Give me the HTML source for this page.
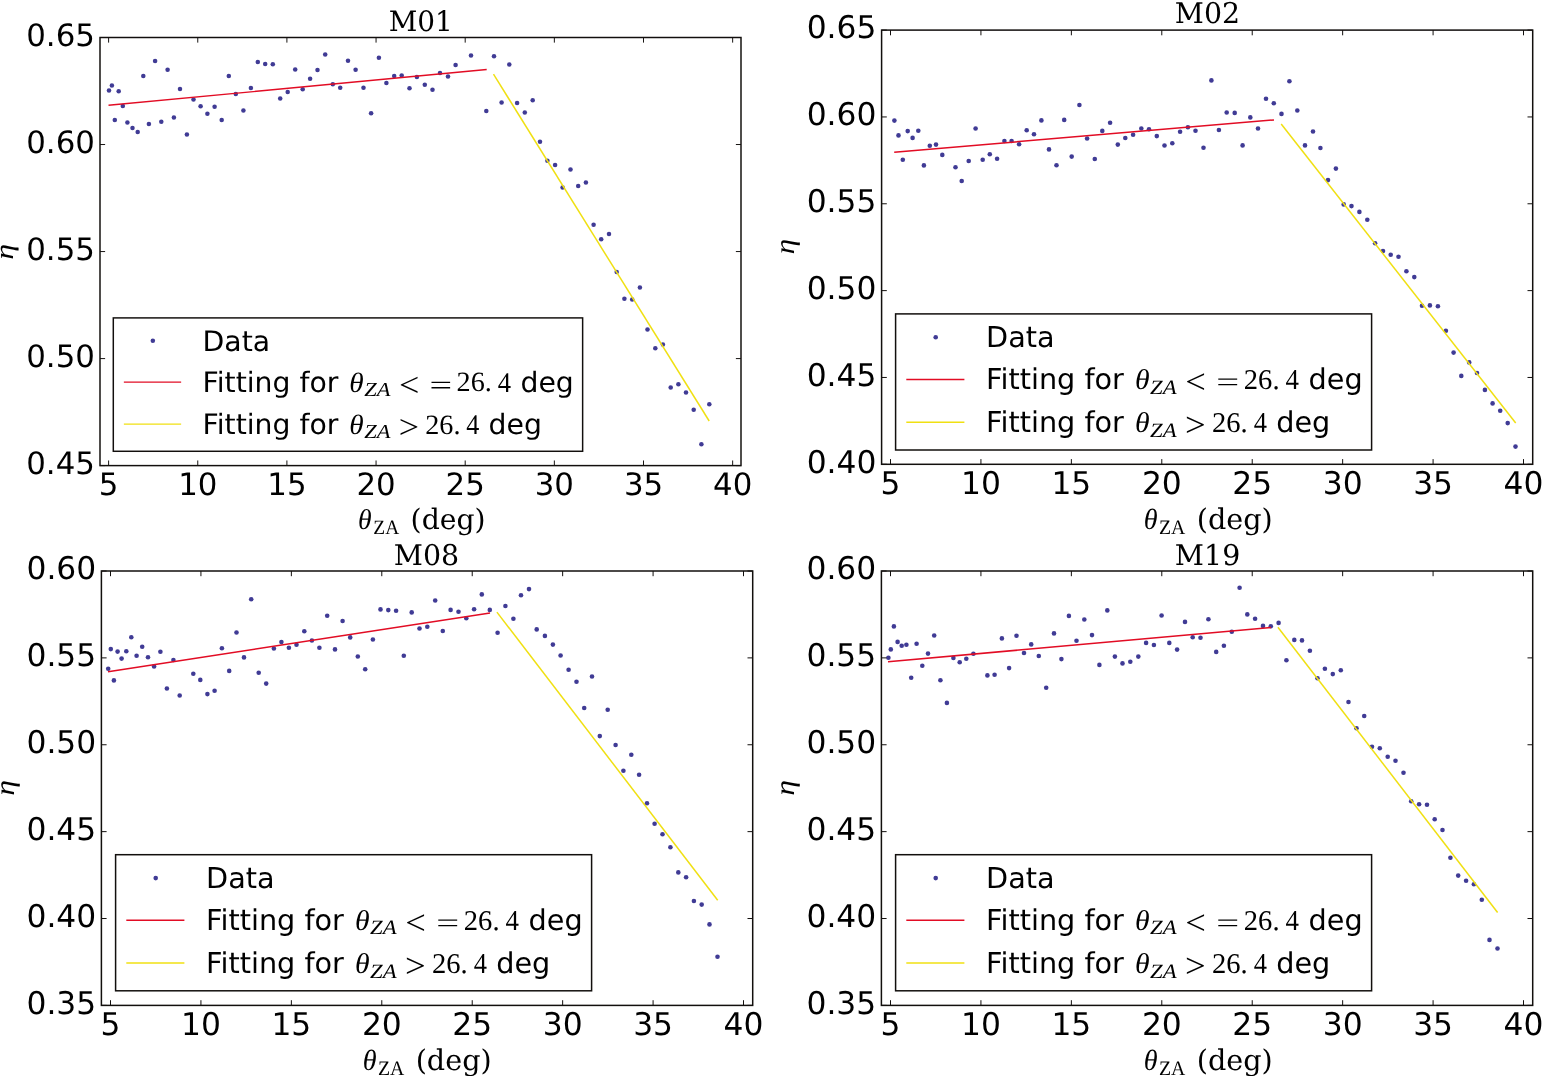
<!DOCTYPE html>
<html><head><meta charset="utf-8"><title>Detection efficiency vs zenith angle</title>
<style>html,body{margin:0;padding:0;background:#fff;overflow:hidden;}svg{display:block;}</style></head>
<body>
<svg width="1543" height="1076" viewBox="0 0 1543 1076" text-rendering="geometricPrecision">
<rect width="1543" height="1076" fill="#fff"/>
<g fill="#403b95">
<circle cx="109" cy="90.5" r="2.27"/>
<circle cx="111.9" cy="85.6" r="2.27"/>
<circle cx="114.8" cy="119.9" r="2.27"/>
<circle cx="118.7" cy="91.2" r="2.27"/>
<circle cx="122.8" cy="106.1" r="2.27"/>
<circle cx="127.4" cy="122.4" r="2.27"/>
<circle cx="132.5" cy="128" r="2.27"/>
<circle cx="137.7" cy="132.1" r="2.27"/>
<circle cx="143.3" cy="75.9" r="2.27"/>
<circle cx="148.9" cy="124" r="2.27"/>
<circle cx="155.1" cy="60.9" r="2.27"/>
<circle cx="161.3" cy="121.8" r="2.27"/>
<circle cx="167.6" cy="69.7" r="2.27"/>
<circle cx="173.9" cy="117.6" r="2.27"/>
<circle cx="180" cy="88.9" r="2.27"/>
<circle cx="186.9" cy="134.6" r="2.27"/>
<circle cx="193.5" cy="99.6" r="2.27"/>
<circle cx="200.6" cy="106.2" r="2.27"/>
<circle cx="207.4" cy="113.8" r="2.27"/>
<circle cx="214.6" cy="106.8" r="2.27"/>
<circle cx="221.7" cy="120" r="2.27"/>
<circle cx="228.8" cy="76" r="2.27"/>
<circle cx="235.8" cy="94" r="2.27"/>
<circle cx="243.4" cy="110.5" r="2.27"/>
<circle cx="250.9" cy="88" r="2.27"/>
<circle cx="257.8" cy="61.9" r="2.27"/>
<circle cx="265.2" cy="64.1" r="2.27"/>
<circle cx="272.8" cy="64.3" r="2.27"/>
<circle cx="280.2" cy="98.4" r="2.27"/>
<circle cx="287.7" cy="92" r="2.27"/>
<circle cx="295.2" cy="69.6" r="2.27"/>
<circle cx="302.7" cy="89.3" r="2.27"/>
<circle cx="310.1" cy="78.8" r="2.27"/>
<circle cx="317.5" cy="69.9" r="2.27"/>
<circle cx="325.2" cy="54.6" r="2.27"/>
<circle cx="332.8" cy="84.3" r="2.27"/>
<circle cx="340.2" cy="87.8" r="2.27"/>
<circle cx="348" cy="60.7" r="2.27"/>
<circle cx="355.6" cy="69.8" r="2.27"/>
<circle cx="363.5" cy="87.8" r="2.27"/>
<circle cx="371.1" cy="113.2" r="2.27"/>
<circle cx="378.9" cy="57.7" r="2.27"/>
<circle cx="386.4" cy="83" r="2.27"/>
<circle cx="394.2" cy="75.9" r="2.27"/>
<circle cx="401.7" cy="75.4" r="2.27"/>
<circle cx="409.5" cy="88.2" r="2.27"/>
<circle cx="416.9" cy="77" r="2.27"/>
<circle cx="424.8" cy="84.8" r="2.27"/>
<circle cx="432.5" cy="89.7" r="2.27"/>
<circle cx="440" cy="72.9" r="2.27"/>
<circle cx="448" cy="76.4" r="2.27"/>
<circle cx="455.6" cy="64.9" r="2.27"/>
<circle cx="471" cy="55.5" r="2.27"/>
<circle cx="486.3" cy="111" r="2.27"/>
<circle cx="494" cy="56.3" r="2.27"/>
<circle cx="501.6" cy="102.6" r="2.27"/>
<circle cx="509.3" cy="64.4" r="2.27"/>
<circle cx="517.1" cy="103.1" r="2.27"/>
<circle cx="524.8" cy="112.6" r="2.27"/>
<circle cx="532.7" cy="100.2" r="2.27"/>
<circle cx="540" cy="141.7" r="2.27"/>
<circle cx="547.4" cy="160.7" r="2.27"/>
<circle cx="555.1" cy="165" r="2.27"/>
<circle cx="562.6" cy="187.5" r="2.27"/>
<circle cx="570.5" cy="169.6" r="2.27"/>
<circle cx="578.2" cy="185.9" r="2.27"/>
<circle cx="585.9" cy="182.5" r="2.27"/>
<circle cx="593.6" cy="224.8" r="2.27"/>
<circle cx="601.2" cy="239.3" r="2.27"/>
<circle cx="609" cy="234" r="2.27"/>
<circle cx="616.7" cy="272.1" r="2.27"/>
<circle cx="624.4" cy="298.8" r="2.27"/>
<circle cx="632.2" cy="299.4" r="2.27"/>
<circle cx="639.9" cy="287.6" r="2.27"/>
<circle cx="647.5" cy="329.4" r="2.27"/>
<circle cx="655.3" cy="348.3" r="2.27"/>
<circle cx="662.9" cy="344.4" r="2.27"/>
<circle cx="670.7" cy="387.6" r="2.27"/>
<circle cx="678.4" cy="384.2" r="2.27"/>
<circle cx="686" cy="392.6" r="2.27"/>
<circle cx="693.7" cy="409.8" r="2.27"/>
<circle cx="701.4" cy="444.3" r="2.27"/>
<circle cx="709.3" cy="404.2" r="2.27"/>
</g>
<line x1="108.5" y1="105.3" x2="486.7" y2="69.6" stroke="#e20c24" stroke-width="1.48"/>
<line x1="493.5" y1="74.2" x2="709.2" y2="421" stroke="#f0e012" stroke-width="1.48"/>
<path d="M108.6 465.6V460.48M108.6 37.5V42.62M197.75 465.6V460.48M197.75 37.5V42.62M286.9 465.6V460.48M286.9 37.5V42.62M376.05 465.6V460.48M376.05 37.5V42.62M465.2 465.6V460.48M465.2 37.5V42.62M554.35 465.6V460.48M554.35 37.5V42.62M643.5 465.6V460.48M643.5 37.5V42.62M732.65 465.6V460.48M732.65 37.5V42.62M100 465.6H105.12M741 465.6H735.88M100 358.58H105.12M741 358.58H735.88M100 251.55H105.12M741 251.55H735.88M100 144.53H105.12M741 144.53H735.88M100 37.5H105.12M741 37.5H735.88" stroke="#120f0d" stroke-width="0.98" fill="none"/>
<rect x="100" y="37.5" width="641" height="428.1" fill="none" stroke="#120f0d" stroke-width="1.48"/>
<g font-family="'DejaVu Sans', 'Liberation Sans', sans-serif" font-size="30.83" fill="#000">
<text x="108.6" y="494.56" text-anchor="middle">5</text>
<text x="197.75" y="494.56" text-anchor="middle">10</text>
<text x="286.9" y="494.56" text-anchor="middle">15</text>
<text x="376.05" y="494.56" text-anchor="middle">20</text>
<text x="465.2" y="494.56" text-anchor="middle">25</text>
<text x="554.35" y="494.56" text-anchor="middle">30</text>
<text x="643.5" y="494.56" text-anchor="middle">35</text>
<text x="732.65" y="494.56" text-anchor="middle">40</text>
<text x="94.88" y="473.68" text-anchor="end">0.45</text>
<text x="94.88" y="366.65" text-anchor="end">0.50</text>
<text x="94.88" y="259.63" text-anchor="end">0.55</text>
<text x="94.88" y="152.6" text-anchor="end">0.60</text>
<text x="94.88" y="45.58" text-anchor="end">0.65</text>
</g>
<text transform="translate(388.66 30.8) scale(0.9918 1)" font-family="'DejaVu Serif', 'Liberation Serif', serif" font-size="28.17">M01</text>
<text transform="translate(358.1 529.27) scale(0.9670 1)" font-family="'Liberation Serif', serif" font-size="28.63" font-style="italic">θ</text>
<text transform="translate(373.32 533.65) scale(0.9491 1)" font-family="'Liberation Serif', serif" font-size="20.45">ZA</text>
<text transform="translate(410.61 528.7) scale(1.0048 1)" font-family="'DejaVu Serif', 'Liberation Serif', serif" font-size="28.17">(deg)</text>
<text transform="translate(13.47 259.69) rotate(-90) scale(1.2232 1)" font-family="'Liberation Serif', serif" font-size="26.15" font-style="italic">η</text>
<g transform="translate(-769.76 10.28) scale(0.986 0.980)">
<rect x="895.6" y="313.9" width="476" height="136.1" fill="#fff" stroke="#120f0d" stroke-width="1.5"/>
<circle cx="935.7" cy="337.3" r="2.3" fill="#403b95"/>
<line x1="906.3" y1="379.4" x2="964.4" y2="379.4" stroke="#e20c24" stroke-width="1.45"/>
<line x1="906.3" y1="422.3" x2="964.4" y2="422.3" stroke="#f0e012" stroke-width="1.45"/>
<g font-family="'DejaVu Sans', 'Liberation Sans', sans-serif" font-size="28.7">
<text x="986.08" y="347.2">Data</text>
<text x="986.08" y="389.0">Fitting for</text>
<text x="1308.52" y="389.0">deg</text>
<text x="986.08" y="432.3">Fitting for</text>
<text x="1276.22" y="432.3">deg</text>
</g>
<text transform="translate(1134.9 389.07) scale(1.0379 1)" font-family="'Liberation Serif', serif" font-size="28.63" font-style="italic">θ</text>
<text transform="translate(1150.07 393.65) scale(1.1230 1)" font-family="'Liberation Serif', serif" font-size="20.3" font-style="italic">ZA</text>
<text transform="translate(1185.23 393.48) scale(1.0617 1)" font-family="'Liberation Serif', serif" font-size="34.41">&lt;</text>
<text transform="translate(1216.33 391.16) scale(1.4716 1)" font-family="'Liberation Serif', serif" font-size="27.6">=</text>
<text transform="translate(1243.79 388.85) scale(1.0019 1)" font-family="'Liberation Serif', serif" font-size="28.54">26.</text>
<text transform="translate(1285.52 389.05) scale(0.9267 1)" font-family="'Liberation Serif', serif" font-size="29.02">4</text>
<text transform="translate(1134.9 432.17) scale(1.0379 1)" font-family="'Liberation Serif', serif" font-size="28.63" font-style="italic">θ</text>
<text transform="translate(1150.07 436.75) scale(1.1230 1)" font-family="'Liberation Serif', serif" font-size="20.3" font-style="italic">ZA</text>
<text transform="translate(1184.99 436.44) scale(1.0747 1)" font-family="'Liberation Serif', serif" font-size="34">&gt;</text>
<text transform="translate(1211.99 431.95) scale(1.0019 1)" font-family="'Liberation Serif', serif" font-size="28.54">26.</text>
<text transform="translate(1253.63 432.15) scale(0.9119 1)" font-family="'Liberation Serif', serif" font-size="29.02">4</text>
</g>
<g fill="#403b95">
<circle cx="894.4" cy="120.6" r="2.3"/>
<circle cx="898.5" cy="135.4" r="2.3"/>
<circle cx="902.8" cy="159.7" r="2.3"/>
<circle cx="907.7" cy="131.1" r="2.3"/>
<circle cx="912.6" cy="137.9" r="2.3"/>
<circle cx="918.3" cy="130.7" r="2.3"/>
<circle cx="923.9" cy="165.4" r="2.3"/>
<circle cx="929.8" cy="145.8" r="2.3"/>
<circle cx="936" cy="144.6" r="2.3"/>
<circle cx="942.3" cy="154.9" r="2.3"/>
<circle cx="955.5" cy="167.3" r="2.3"/>
<circle cx="961.7" cy="181" r="2.3"/>
<circle cx="968.7" cy="161" r="2.3"/>
<circle cx="975.6" cy="128.5" r="2.3"/>
<circle cx="982.7" cy="159.7" r="2.3"/>
<circle cx="989.8" cy="154.2" r="2.3"/>
<circle cx="997.1" cy="158.7" r="2.3"/>
<circle cx="1004.4" cy="141" r="2.3"/>
<circle cx="1011.6" cy="141" r="2.3"/>
<circle cx="1019.1" cy="144.3" r="2.3"/>
<circle cx="1026.7" cy="130.2" r="2.3"/>
<circle cx="1034" cy="134.3" r="2.3"/>
<circle cx="1041.4" cy="120.4" r="2.3"/>
<circle cx="1049" cy="149.4" r="2.3"/>
<circle cx="1056.5" cy="165.3" r="2.3"/>
<circle cx="1064.2" cy="119.9" r="2.3"/>
<circle cx="1071.7" cy="156.6" r="2.3"/>
<circle cx="1079.4" cy="105" r="2.3"/>
<circle cx="1087.1" cy="138.5" r="2.3"/>
<circle cx="1094.8" cy="159" r="2.3"/>
<circle cx="1102.3" cy="130.9" r="2.3"/>
<circle cx="1110.1" cy="122.8" r="2.3"/>
<circle cx="1117.8" cy="144.6" r="2.3"/>
<circle cx="1125.3" cy="138" r="2.3"/>
<circle cx="1133.1" cy="134.8" r="2.3"/>
<circle cx="1141.3" cy="128.5" r="2.3"/>
<circle cx="1149" cy="129.2" r="2.3"/>
<circle cx="1156.8" cy="136.1" r="2.3"/>
<circle cx="1164.5" cy="145.5" r="2.3"/>
<circle cx="1172.3" cy="143.2" r="2.3"/>
<circle cx="1180.1" cy="131.8" r="2.3"/>
<circle cx="1187.9" cy="127.3" r="2.3"/>
<circle cx="1195.5" cy="130.8" r="2.3"/>
<circle cx="1203.5" cy="147.8" r="2.3"/>
<circle cx="1211.4" cy="80.4" r="2.3"/>
<circle cx="1218.9" cy="130" r="2.3"/>
<circle cx="1226.7" cy="112.5" r="2.3"/>
<circle cx="1234.7" cy="112.9" r="2.3"/>
<circle cx="1242.6" cy="145.4" r="2.3"/>
<circle cx="1250.3" cy="117.4" r="2.3"/>
<circle cx="1258" cy="128.5" r="2.3"/>
<circle cx="1266" cy="98.8" r="2.3"/>
<circle cx="1273.8" cy="103.3" r="2.3"/>
<circle cx="1281.5" cy="113.9" r="2.3"/>
<circle cx="1289.4" cy="81.2" r="2.3"/>
<circle cx="1297.3" cy="110.5" r="2.3"/>
<circle cx="1305" cy="145.4" r="2.3"/>
<circle cx="1313" cy="131.5" r="2.3"/>
<circle cx="1320.4" cy="148" r="2.3"/>
<circle cx="1328" cy="180.1" r="2.3"/>
<circle cx="1335.9" cy="168.6" r="2.3"/>
<circle cx="1343.7" cy="204.4" r="2.3"/>
<circle cx="1351.5" cy="206.1" r="2.3"/>
<circle cx="1359.4" cy="211.9" r="2.3"/>
<circle cx="1367.3" cy="219.8" r="2.3"/>
<circle cx="1375.1" cy="243.3" r="2.3"/>
<circle cx="1383" cy="251" r="2.3"/>
<circle cx="1390.7" cy="254.8" r="2.3"/>
<circle cx="1398.5" cy="256.8" r="2.3"/>
<circle cx="1406.4" cy="271.2" r="2.3"/>
<circle cx="1414.3" cy="277.1" r="2.3"/>
<circle cx="1422" cy="305.7" r="2.3"/>
<circle cx="1429.9" cy="305.4" r="2.3"/>
<circle cx="1437.9" cy="306.2" r="2.3"/>
<circle cx="1445.9" cy="330.8" r="2.3"/>
<circle cx="1453.6" cy="352.6" r="2.3"/>
<circle cx="1461.3" cy="375.9" r="2.3"/>
<circle cx="1469.2" cy="362.4" r="2.3"/>
<circle cx="1477" cy="373" r="2.3"/>
<circle cx="1484.9" cy="389.9" r="2.3"/>
<circle cx="1492.6" cy="403.4" r="2.3"/>
<circle cx="1500.2" cy="410.8" r="2.3"/>
<circle cx="1507.7" cy="423.1" r="2.3"/>
<circle cx="1515.5" cy="446.6" r="2.3"/>
</g>
<line x1="894.2" y1="152.2" x2="1274" y2="119.9" stroke="#e20c24" stroke-width="1.5"/>
<line x1="1281.2" y1="124" x2="1515.7" y2="423" stroke="#f0e012" stroke-width="1.5"/>
<path d="M890.5 464.3V459.1M890.5 30.1V35.3M980.93 464.3V459.1M980.93 30.1V35.3M1071.36 464.3V459.1M1071.36 30.1V35.3M1161.79 464.3V459.1M1161.79 30.1V35.3M1252.22 464.3V459.1M1252.22 30.1V35.3M1342.65 464.3V459.1M1342.65 30.1V35.3M1433.08 464.3V459.1M1433.08 30.1V35.3M1523.51 464.3V459.1M1523.51 30.1V35.3M881.6 464.3H886.8M1532.7 464.3H1527.5M881.6 377.46H886.8M1532.7 377.46H1527.5M881.6 290.62H886.8M1532.7 290.62H1527.5M881.6 203.78H886.8M1532.7 203.78H1527.5M881.6 116.94H886.8M1532.7 116.94H1527.5M881.6 30.1H886.8M1532.7 30.1H1527.5" stroke="#120f0d" stroke-width="1" fill="none"/>
<rect x="881.6" y="30.1" width="651.1" height="434.2" fill="none" stroke="#120f0d" stroke-width="1.5"/>
<g font-family="'DejaVu Sans', 'Liberation Sans', sans-serif" font-size="31.3" fill="#000">
<text x="890.5" y="493.7" text-anchor="middle">5</text>
<text x="980.93" y="493.7" text-anchor="middle">10</text>
<text x="1071.36" y="493.7" text-anchor="middle">15</text>
<text x="1161.79" y="493.7" text-anchor="middle">20</text>
<text x="1252.22" y="493.7" text-anchor="middle">25</text>
<text x="1342.65" y="493.7" text-anchor="middle">30</text>
<text x="1433.08" y="493.7" text-anchor="middle">35</text>
<text x="1523.51" y="493.7" text-anchor="middle">40</text>
<text x="876.4" y="472.5" text-anchor="end">0.40</text>
<text x="876.4" y="385.66" text-anchor="end">0.45</text>
<text x="876.4" y="298.82" text-anchor="end">0.50</text>
<text x="876.4" y="211.98" text-anchor="end">0.55</text>
<text x="876.4" y="125.14" text-anchor="end">0.60</text>
<text x="876.4" y="38.3" text-anchor="end">0.65</text>
</g>
<text transform="translate(1174.84 23.3) scale(0.9928 1)" font-family="'DejaVu Serif', 'Liberation Serif', serif" font-size="28.6">M02</text>
<text transform="translate(1143.77 529.46) scale(0.9601 1)" font-family="'Liberation Serif', serif" font-size="29.34" font-style="italic">θ</text>
<text transform="translate(1159 533.65) scale(0.9611 1)" font-family="'Liberation Serif', serif" font-size="20.6">ZA</text>
<text transform="translate(1196.78 528.9) scale(1.0023 1)" font-family="'DejaVu Serif', 'Liberation Serif', serif" font-size="28.6">(deg)</text>
<text transform="translate(793.69 254.36) rotate(-90) scale(1.1299 1)" font-family="'Liberation Serif', serif" font-size="27.46" font-style="italic">η</text>
<g>
<rect x="895.6" y="313.9" width="476" height="136.1" fill="#fff" stroke="#120f0d" stroke-width="1.5"/>
<circle cx="935.7" cy="337.3" r="2.3" fill="#403b95"/>
<line x1="906.3" y1="379.4" x2="964.4" y2="379.4" stroke="#e20c24" stroke-width="1.45"/>
<line x1="906.3" y1="422.3" x2="964.4" y2="422.3" stroke="#f0e012" stroke-width="1.45"/>
<g font-family="'DejaVu Sans', 'Liberation Sans', sans-serif" font-size="28.7">
<text x="986.08" y="347.2">Data</text>
<text x="986.08" y="389.0">Fitting for</text>
<text x="1308.52" y="389.0">deg</text>
<text x="986.08" y="432.3">Fitting for</text>
<text x="1276.22" y="432.3">deg</text>
</g>
<text transform="translate(1134.9 389.07) scale(1.0379 1)" font-family="'Liberation Serif', serif" font-size="28.63" font-style="italic">θ</text>
<text transform="translate(1150.07 393.65) scale(1.1230 1)" font-family="'Liberation Serif', serif" font-size="20.3" font-style="italic">ZA</text>
<text transform="translate(1185.23 393.48) scale(1.0617 1)" font-family="'Liberation Serif', serif" font-size="34.41">&lt;</text>
<text transform="translate(1216.33 391.16) scale(1.4716 1)" font-family="'Liberation Serif', serif" font-size="27.6">=</text>
<text transform="translate(1243.79 388.85) scale(1.0019 1)" font-family="'Liberation Serif', serif" font-size="28.54">26.</text>
<text transform="translate(1285.52 389.05) scale(0.9267 1)" font-family="'Liberation Serif', serif" font-size="29.02">4</text>
<text transform="translate(1134.9 432.17) scale(1.0379 1)" font-family="'Liberation Serif', serif" font-size="28.63" font-style="italic">θ</text>
<text transform="translate(1150.07 436.75) scale(1.1230 1)" font-family="'Liberation Serif', serif" font-size="20.3" font-style="italic">ZA</text>
<text transform="translate(1184.99 436.44) scale(1.0747 1)" font-family="'Liberation Serif', serif" font-size="34">&gt;</text>
<text transform="translate(1211.99 431.95) scale(1.0019 1)" font-family="'Liberation Serif', serif" font-size="28.54">26.</text>
<text transform="translate(1253.63 432.15) scale(0.9119 1)" font-family="'Liberation Serif', serif" font-size="29.02">4</text>
</g>
<g fill="#403b95">
<circle cx="108.2" cy="668.8" r="2.3"/>
<circle cx="110.8" cy="649.1" r="2.3"/>
<circle cx="113.9" cy="680.4" r="2.3"/>
<circle cx="117.6" cy="651.6" r="2.3"/>
<circle cx="121.6" cy="658.6" r="2.3"/>
<circle cx="126.3" cy="651.2" r="2.3"/>
<circle cx="131.3" cy="637.2" r="2.3"/>
<circle cx="136.6" cy="655.7" r="2.3"/>
<circle cx="142.2" cy="646.8" r="2.3"/>
<circle cx="148" cy="657.3" r="2.3"/>
<circle cx="154.1" cy="666.5" r="2.3"/>
<circle cx="160.4" cy="651.8" r="2.3"/>
<circle cx="166.9" cy="688.5" r="2.3"/>
<circle cx="173.4" cy="660" r="2.3"/>
<circle cx="179.7" cy="695.5" r="2.3"/>
<circle cx="193.3" cy="673.7" r="2.3"/>
<circle cx="200.3" cy="679.9" r="2.3"/>
<circle cx="207.4" cy="694.1" r="2.3"/>
<circle cx="214.6" cy="690.7" r="2.3"/>
<circle cx="221.9" cy="648.2" r="2.3"/>
<circle cx="229.2" cy="670.9" r="2.3"/>
<circle cx="236.5" cy="632.5" r="2.3"/>
<circle cx="244" cy="657.4" r="2.3"/>
<circle cx="251.2" cy="599.3" r="2.3"/>
<circle cx="258.7" cy="672.7" r="2.3"/>
<circle cx="266.2" cy="683.6" r="2.3"/>
<circle cx="273.9" cy="648.5" r="2.3"/>
<circle cx="281.4" cy="642.1" r="2.3"/>
<circle cx="288.9" cy="647.7" r="2.3"/>
<circle cx="296.5" cy="644.8" r="2.3"/>
<circle cx="304.3" cy="631.3" r="2.3"/>
<circle cx="311.9" cy="640.5" r="2.3"/>
<circle cx="319.4" cy="647.8" r="2.3"/>
<circle cx="327.2" cy="615.8" r="2.3"/>
<circle cx="335" cy="649.4" r="2.3"/>
<circle cx="342.6" cy="621" r="2.3"/>
<circle cx="350.2" cy="637.4" r="2.3"/>
<circle cx="357.8" cy="656.5" r="2.3"/>
<circle cx="365.2" cy="669.2" r="2.3"/>
<circle cx="372.9" cy="639.5" r="2.3"/>
<circle cx="380.5" cy="609.4" r="2.3"/>
<circle cx="388.3" cy="610.1" r="2.3"/>
<circle cx="396.1" cy="610.8" r="2.3"/>
<circle cx="403.8" cy="655.8" r="2.3"/>
<circle cx="411.7" cy="612.4" r="2.3"/>
<circle cx="419.5" cy="628.5" r="2.3"/>
<circle cx="427.3" cy="626.7" r="2.3"/>
<circle cx="435.2" cy="600.5" r="2.3"/>
<circle cx="442.8" cy="631" r="2.3"/>
<circle cx="450.6" cy="609.9" r="2.3"/>
<circle cx="458.5" cy="611.7" r="2.3"/>
<circle cx="466.3" cy="618.3" r="2.3"/>
<circle cx="474.1" cy="609.2" r="2.3"/>
<circle cx="481.8" cy="594.4" r="2.3"/>
<circle cx="489.8" cy="609.9" r="2.3"/>
<circle cx="497.6" cy="632.8" r="2.3"/>
<circle cx="505.4" cy="606" r="2.3"/>
<circle cx="513.4" cy="618.8" r="2.3"/>
<circle cx="521" cy="595.3" r="2.3"/>
<circle cx="529" cy="589.1" r="2.3"/>
<circle cx="536.7" cy="629.4" r="2.3"/>
<circle cx="544.9" cy="635.9" r="2.3"/>
<circle cx="552.9" cy="644.6" r="2.3"/>
<circle cx="560.6" cy="655.5" r="2.3"/>
<circle cx="568.6" cy="669.7" r="2.3"/>
<circle cx="576.5" cy="681.8" r="2.3"/>
<circle cx="584.2" cy="708" r="2.3"/>
<circle cx="592" cy="676.5" r="2.3"/>
<circle cx="599.8" cy="736.1" r="2.3"/>
<circle cx="607.7" cy="709.8" r="2.3"/>
<circle cx="615.6" cy="745" r="2.3"/>
<circle cx="623.4" cy="770.8" r="2.3"/>
<circle cx="631.3" cy="754.7" r="2.3"/>
<circle cx="639.1" cy="774.8" r="2.3"/>
<circle cx="647" cy="803.3" r="2.3"/>
<circle cx="654.6" cy="823.8" r="2.3"/>
<circle cx="662.5" cy="834.2" r="2.3"/>
<circle cx="670.4" cy="847.2" r="2.3"/>
<circle cx="678.3" cy="872.4" r="2.3"/>
<circle cx="686.1" cy="877.2" r="2.3"/>
<circle cx="693.9" cy="901" r="2.3"/>
<circle cx="701.7" cy="904.6" r="2.3"/>
<circle cx="709.5" cy="924.4" r="2.3"/>
<circle cx="717.5" cy="956.7" r="2.3"/>
</g>
<line x1="108" y1="671.7" x2="490" y2="613.1" stroke="#e20c24" stroke-width="1.5"/>
<line x1="496.9" y1="612.1" x2="717.7" y2="900.2" stroke="#f0e012" stroke-width="1.5"/>
<path d="M110.5 1005.4V1000.2M110.5 571V576.2M200.93 1005.4V1000.2M200.93 571V576.2M291.36 1005.4V1000.2M291.36 571V576.2M381.79 1005.4V1000.2M381.79 571V576.2M472.22 1005.4V1000.2M472.22 571V576.2M562.65 1005.4V1000.2M562.65 571V576.2M653.08 1005.4V1000.2M653.08 571V576.2M743.51 1005.4V1000.2M743.51 571V576.2M101.4 1005.4H106.6M752.7 1005.4H747.5M101.4 918.52H106.6M752.7 918.52H747.5M101.4 831.64H106.6M752.7 831.64H747.5M101.4 744.76H106.6M752.7 744.76H747.5M101.4 657.88H106.6M752.7 657.88H747.5M101.4 571H106.6M752.7 571H747.5" stroke="#120f0d" stroke-width="1" fill="none"/>
<rect x="101.4" y="571" width="651.3" height="434.4" fill="none" stroke="#120f0d" stroke-width="1.5"/>
<g font-family="'DejaVu Sans', 'Liberation Sans', sans-serif" font-size="31.3" fill="#000">
<text x="110.5" y="1034.8" text-anchor="middle">5</text>
<text x="200.93" y="1034.8" text-anchor="middle">10</text>
<text x="291.36" y="1034.8" text-anchor="middle">15</text>
<text x="381.79" y="1034.8" text-anchor="middle">20</text>
<text x="472.22" y="1034.8" text-anchor="middle">25</text>
<text x="562.65" y="1034.8" text-anchor="middle">30</text>
<text x="653.08" y="1034.8" text-anchor="middle">35</text>
<text x="743.51" y="1034.8" text-anchor="middle">40</text>
<text x="96.2" y="1013.6" text-anchor="end">0.35</text>
<text x="96.2" y="926.72" text-anchor="end">0.40</text>
<text x="96.2" y="839.84" text-anchor="end">0.45</text>
<text x="96.2" y="752.96" text-anchor="end">0.50</text>
<text x="96.2" y="666.08" text-anchor="end">0.55</text>
<text x="96.2" y="579.2" text-anchor="end">0.60</text>
</g>
<text transform="translate(393.73 564.5) scale(0.9964 1)" font-family="'DejaVu Serif', 'Liberation Serif', serif" font-size="28.6">M08</text>
<text transform="translate(362.67 1070.46) scale(0.9601 1)" font-family="'Liberation Serif', serif" font-size="29.34" font-style="italic">θ</text>
<text transform="translate(377.9 1074.65) scale(0.9611 1)" font-family="'Liberation Serif', serif" font-size="20.6">ZA</text>
<text transform="translate(415.68 1069.9) scale(1.0023 1)" font-family="'DejaVu Serif', 'Liberation Serif', serif" font-size="28.6">(deg)</text>
<text transform="translate(13.75 795.68) rotate(-90) scale(1.1684 1)" font-family="'Liberation Serif', serif" font-size="27.17" font-style="italic">η</text>
<g transform="translate(-780 540.8)">
<rect x="895.6" y="313.9" width="476" height="136.1" fill="#fff" stroke="#120f0d" stroke-width="1.5"/>
<circle cx="935.7" cy="337.3" r="2.3" fill="#403b95"/>
<line x1="906.3" y1="379.4" x2="964.4" y2="379.4" stroke="#e20c24" stroke-width="1.45"/>
<line x1="906.3" y1="422.3" x2="964.4" y2="422.3" stroke="#f0e012" stroke-width="1.45"/>
<g font-family="'DejaVu Sans', 'Liberation Sans', sans-serif" font-size="28.7">
<text x="986.08" y="347.2">Data</text>
<text x="986.08" y="389.0">Fitting for</text>
<text x="1308.52" y="389.0">deg</text>
<text x="986.08" y="432.3">Fitting for</text>
<text x="1276.22" y="432.3">deg</text>
</g>
<text transform="translate(1134.9 389.07) scale(1.0379 1)" font-family="'Liberation Serif', serif" font-size="28.63" font-style="italic">θ</text>
<text transform="translate(1150.07 393.65) scale(1.1230 1)" font-family="'Liberation Serif', serif" font-size="20.3" font-style="italic">ZA</text>
<text transform="translate(1185.23 393.48) scale(1.0617 1)" font-family="'Liberation Serif', serif" font-size="34.41">&lt;</text>
<text transform="translate(1216.33 391.16) scale(1.4716 1)" font-family="'Liberation Serif', serif" font-size="27.6">=</text>
<text transform="translate(1243.79 388.85) scale(1.0019 1)" font-family="'Liberation Serif', serif" font-size="28.54">26.</text>
<text transform="translate(1285.52 389.05) scale(0.9267 1)" font-family="'Liberation Serif', serif" font-size="29.02">4</text>
<text transform="translate(1134.9 432.17) scale(1.0379 1)" font-family="'Liberation Serif', serif" font-size="28.63" font-style="italic">θ</text>
<text transform="translate(1150.07 436.75) scale(1.1230 1)" font-family="'Liberation Serif', serif" font-size="20.3" font-style="italic">ZA</text>
<text transform="translate(1184.99 436.44) scale(1.0747 1)" font-family="'Liberation Serif', serif" font-size="34">&gt;</text>
<text transform="translate(1211.99 431.95) scale(1.0019 1)" font-family="'Liberation Serif', serif" font-size="28.54">26.</text>
<text transform="translate(1253.63 432.15) scale(0.9119 1)" font-family="'Liberation Serif', serif" font-size="29.02">4</text>
</g>
<g fill="#403b95">
<circle cx="888.4" cy="657.8" r="2.3"/>
<circle cx="890.8" cy="649.4" r="2.3"/>
<circle cx="893.9" cy="626.4" r="2.3"/>
<circle cx="897.6" cy="641.9" r="2.3"/>
<circle cx="901.7" cy="645.7" r="2.3"/>
<circle cx="906.4" cy="644.7" r="2.3"/>
<circle cx="911.2" cy="677.8" r="2.3"/>
<circle cx="916.6" cy="643.7" r="2.3"/>
<circle cx="922.3" cy="665.8" r="2.3"/>
<circle cx="928" cy="653.6" r="2.3"/>
<circle cx="934.2" cy="635.5" r="2.3"/>
<circle cx="940.4" cy="680.2" r="2.3"/>
<circle cx="946.9" cy="702.9" r="2.3"/>
<circle cx="953.4" cy="657.9" r="2.3"/>
<circle cx="959.7" cy="662.2" r="2.3"/>
<circle cx="966.3" cy="658.7" r="2.3"/>
<circle cx="973.4" cy="653.8" r="2.3"/>
<circle cx="987.4" cy="675.4" r="2.3"/>
<circle cx="994.6" cy="674.7" r="2.3"/>
<circle cx="1001.9" cy="638.4" r="2.3"/>
<circle cx="1009.1" cy="668.1" r="2.3"/>
<circle cx="1016.5" cy="635.8" r="2.3"/>
<circle cx="1024" cy="653" r="2.3"/>
<circle cx="1031.2" cy="644.4" r="2.3"/>
<circle cx="1038.8" cy="656" r="2.3"/>
<circle cx="1046.2" cy="687.8" r="2.3"/>
<circle cx="1054" cy="633.4" r="2.3"/>
<circle cx="1061.4" cy="659.1" r="2.3"/>
<circle cx="1068.9" cy="615.9" r="2.3"/>
<circle cx="1076.5" cy="640.7" r="2.3"/>
<circle cx="1084.3" cy="619.5" r="2.3"/>
<circle cx="1092" cy="635.1" r="2.3"/>
<circle cx="1099.4" cy="664.9" r="2.3"/>
<circle cx="1107.3" cy="610.4" r="2.3"/>
<circle cx="1114.9" cy="656.6" r="2.3"/>
<circle cx="1122.5" cy="663.4" r="2.3"/>
<circle cx="1130.3" cy="661.8" r="2.3"/>
<circle cx="1138.3" cy="656.6" r="2.3"/>
<circle cx="1146.1" cy="642.9" r="2.3"/>
<circle cx="1153.9" cy="645" r="2.3"/>
<circle cx="1161.6" cy="615.5" r="2.3"/>
<circle cx="1169.3" cy="642.9" r="2.3"/>
<circle cx="1177.1" cy="649.6" r="2.3"/>
<circle cx="1185" cy="621.9" r="2.3"/>
<circle cx="1192.7" cy="637.3" r="2.3"/>
<circle cx="1200.5" cy="637.7" r="2.3"/>
<circle cx="1208.4" cy="619.2" r="2.3"/>
<circle cx="1216.2" cy="651.9" r="2.3"/>
<circle cx="1223.9" cy="645.8" r="2.3"/>
<circle cx="1231.8" cy="631.8" r="2.3"/>
<circle cx="1239.6" cy="587.7" r="2.3"/>
<circle cx="1247.3" cy="614.4" r="2.3"/>
<circle cx="1255.1" cy="618.8" r="2.3"/>
<circle cx="1263" cy="625.9" r="2.3"/>
<circle cx="1270.8" cy="626.2" r="2.3"/>
<circle cx="1278.6" cy="622.9" r="2.3"/>
<circle cx="1286.4" cy="660.2" r="2.3"/>
<circle cx="1294.3" cy="639.9" r="2.3"/>
<circle cx="1302" cy="640.4" r="2.3"/>
<circle cx="1309.9" cy="650.8" r="2.3"/>
<circle cx="1317.5" cy="678.3" r="2.3"/>
<circle cx="1324.9" cy="668.8" r="2.3"/>
<circle cx="1332.8" cy="674.1" r="2.3"/>
<circle cx="1340.8" cy="670.3" r="2.3"/>
<circle cx="1348.5" cy="702" r="2.3"/>
<circle cx="1356.5" cy="728.3" r="2.3"/>
<circle cx="1364.2" cy="716" r="2.3"/>
<circle cx="1372" cy="746.7" r="2.3"/>
<circle cx="1379.8" cy="748.2" r="2.3"/>
<circle cx="1387.7" cy="756.8" r="2.3"/>
<circle cx="1395.5" cy="760.7" r="2.3"/>
<circle cx="1403.5" cy="772.7" r="2.3"/>
<circle cx="1411.2" cy="801.2" r="2.3"/>
<circle cx="1419.1" cy="804.3" r="2.3"/>
<circle cx="1427" cy="804.7" r="2.3"/>
<circle cx="1434.7" cy="819.3" r="2.3"/>
<circle cx="1442.5" cy="830" r="2.3"/>
<circle cx="1450.4" cy="857.8" r="2.3"/>
<circle cx="1458.2" cy="875.6" r="2.3"/>
<circle cx="1466.1" cy="880.7" r="2.3"/>
<circle cx="1473.9" cy="884.2" r="2.3"/>
<circle cx="1481.8" cy="899.8" r="2.3"/>
<circle cx="1489.5" cy="939.9" r="2.3"/>
<circle cx="1497.5" cy="948.5" r="2.3"/>
</g>
<line x1="888" y1="661.8" x2="1271" y2="627.4" stroke="#e20c24" stroke-width="1.5"/>
<line x1="1277.9" y1="627.2" x2="1497.6" y2="912.5" stroke="#f0e012" stroke-width="1.5"/>
<path d="M890.5 1005.4V1000.2M890.5 571V576.2M980.93 1005.4V1000.2M980.93 571V576.2M1071.36 1005.4V1000.2M1071.36 571V576.2M1161.79 1005.4V1000.2M1161.79 571V576.2M1252.22 1005.4V1000.2M1252.22 571V576.2M1342.65 1005.4V1000.2M1342.65 571V576.2M1433.08 1005.4V1000.2M1433.08 571V576.2M1523.51 1005.4V1000.2M1523.51 571V576.2M881.4 1005.4H886.6M1532.7 1005.4H1527.5M881.4 918.52H886.6M1532.7 918.52H1527.5M881.4 831.64H886.6M1532.7 831.64H1527.5M881.4 744.76H886.6M1532.7 744.76H1527.5M881.4 657.88H886.6M1532.7 657.88H1527.5M881.4 571H886.6M1532.7 571H1527.5" stroke="#120f0d" stroke-width="1" fill="none"/>
<rect x="881.4" y="571" width="651.3" height="434.4" fill="none" stroke="#120f0d" stroke-width="1.5"/>
<g font-family="'DejaVu Sans', 'Liberation Sans', sans-serif" font-size="31.3" fill="#000">
<text x="890.5" y="1034.8" text-anchor="middle">5</text>
<text x="980.93" y="1034.8" text-anchor="middle">10</text>
<text x="1071.36" y="1034.8" text-anchor="middle">15</text>
<text x="1161.79" y="1034.8" text-anchor="middle">20</text>
<text x="1252.22" y="1034.8" text-anchor="middle">25</text>
<text x="1342.65" y="1034.8" text-anchor="middle">30</text>
<text x="1433.08" y="1034.8" text-anchor="middle">35</text>
<text x="1523.51" y="1034.8" text-anchor="middle">40</text>
<text x="876.2" y="1013.6" text-anchor="end">0.35</text>
<text x="876.2" y="926.72" text-anchor="end">0.40</text>
<text x="876.2" y="839.84" text-anchor="end">0.45</text>
<text x="876.2" y="752.96" text-anchor="end">0.50</text>
<text x="876.2" y="666.08" text-anchor="end">0.55</text>
<text x="876.2" y="579.2" text-anchor="end">0.60</text>
</g>
<text transform="translate(1174.83 564.5) scale(0.9964 1)" font-family="'DejaVu Serif', 'Liberation Serif', serif" font-size="28.6">M19</text>
<text transform="translate(1143.77 1070.46) scale(0.9601 1)" font-family="'Liberation Serif', serif" font-size="29.34" font-style="italic">θ</text>
<text transform="translate(1159 1074.65) scale(0.9611 1)" font-family="'Liberation Serif', serif" font-size="20.6">ZA</text>
<text transform="translate(1196.78 1069.9) scale(1.0023 1)" font-family="'DejaVu Serif', 'Liberation Serif', serif" font-size="28.6">(deg)</text>
<text transform="translate(793.75 795.68) rotate(-90) scale(1.1684 1)" font-family="'Liberation Serif', serif" font-size="27.17" font-style="italic">η</text>
<g transform="translate(0 540.8)">
<rect x="895.6" y="313.9" width="476" height="136.1" fill="#fff" stroke="#120f0d" stroke-width="1.5"/>
<circle cx="935.7" cy="337.3" r="2.3" fill="#403b95"/>
<line x1="906.3" y1="379.4" x2="964.4" y2="379.4" stroke="#e20c24" stroke-width="1.45"/>
<line x1="906.3" y1="422.3" x2="964.4" y2="422.3" stroke="#f0e012" stroke-width="1.45"/>
<g font-family="'DejaVu Sans', 'Liberation Sans', sans-serif" font-size="28.7">
<text x="986.08" y="347.2">Data</text>
<text x="986.08" y="389.0">Fitting for</text>
<text x="1308.52" y="389.0">deg</text>
<text x="986.08" y="432.3">Fitting for</text>
<text x="1276.22" y="432.3">deg</text>
</g>
<text transform="translate(1134.9 389.07) scale(1.0379 1)" font-family="'Liberation Serif', serif" font-size="28.63" font-style="italic">θ</text>
<text transform="translate(1150.07 393.65) scale(1.1230 1)" font-family="'Liberation Serif', serif" font-size="20.3" font-style="italic">ZA</text>
<text transform="translate(1185.23 393.48) scale(1.0617 1)" font-family="'Liberation Serif', serif" font-size="34.41">&lt;</text>
<text transform="translate(1216.33 391.16) scale(1.4716 1)" font-family="'Liberation Serif', serif" font-size="27.6">=</text>
<text transform="translate(1243.79 388.85) scale(1.0019 1)" font-family="'Liberation Serif', serif" font-size="28.54">26.</text>
<text transform="translate(1285.52 389.05) scale(0.9267 1)" font-family="'Liberation Serif', serif" font-size="29.02">4</text>
<text transform="translate(1134.9 432.17) scale(1.0379 1)" font-family="'Liberation Serif', serif" font-size="28.63" font-style="italic">θ</text>
<text transform="translate(1150.07 436.75) scale(1.1230 1)" font-family="'Liberation Serif', serif" font-size="20.3" font-style="italic">ZA</text>
<text transform="translate(1184.99 436.44) scale(1.0747 1)" font-family="'Liberation Serif', serif" font-size="34">&gt;</text>
<text transform="translate(1211.99 431.95) scale(1.0019 1)" font-family="'Liberation Serif', serif" font-size="28.54">26.</text>
<text transform="translate(1253.63 432.15) scale(0.9119 1)" font-family="'Liberation Serif', serif" font-size="29.02">4</text>
</g>
</svg>
</body></html>
